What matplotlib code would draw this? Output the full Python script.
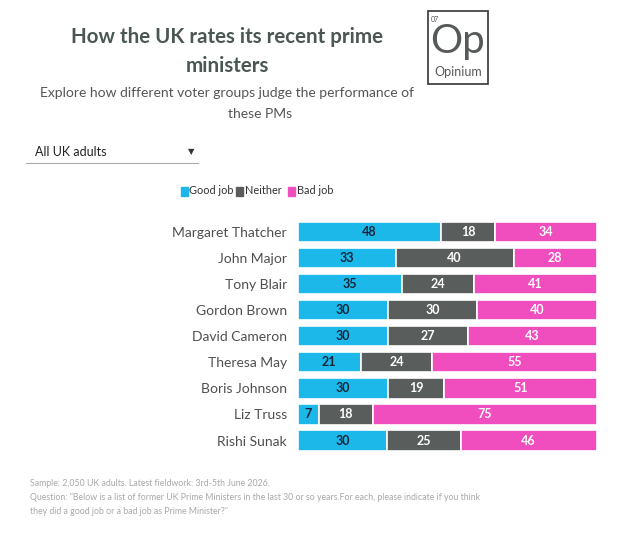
import matplotlib.pyplot as plt
import numpy as np
from matplotlib.patches import Rectangle

plt.rcParams['font.family'] = ['Lato', 'DejaVu Sans']

names = ["Margaret Thatcher", "John Major", "Tony Blair", "Gordon Brown", "David Cameron",
         "Theresa May", "Boris Johnson", "Liz Truss", "Rishi Sunak"]
good = [48, 33, 35, 30, 30, 21, 30, 7, 30]
neither = [18, 40, 24, 30, 27, 24, 19, 18, 25]
bad = [34, 28, 41, 40, 43, 55, 51, 75, 46]

series = ["Good job", "Neither", "Bad job"]
colors = ["#1cb8ea", "#595d5b", "#f04dbf"]
label_colors = ["#14263a", "white", "white"]

fig = plt.figure(figsize=(6.34, 5.38), dpi=100)
ax = fig.add_axes([0.470, 0.157, 0.471, 0.436])

vals = np.array([good, neither, bad], dtype=float)
tot = vals.sum(axis=0)
pct = vals / tot * 100
y = np.arange(len(names))
left = np.zeros(len(names))
for i in range(3):
    ax.barh(y, pct[i], left=left, height=0.78, color=colors[i],
            edgecolor="white", linewidth=1.2)
    for j in range(len(names)):
        ax.text(left[j] + pct[i][j] / 2, y[j], str(int(vals[i][j])), ha="center", va="center",
                color=label_colors[i], fontsize=9, fontweight="bold")
    left += pct[i]

ax.set_xlim(0, 100)
ax.set_ylim(len(names) - 0.5, -0.5)
ax.set_yticks(y)
ax.set_yticklabels(names, fontsize=10, color="#4f4f4f")
ax.tick_params(axis="y", length=0, pad=8)
ax.set_xticks([])
for s in ax.spines.values():
    s.set_visible(False)

# title / subtitle
tc = "#4b5752"
fig.text(227 / 634, 1 - 37 / 538, "How the UK rates its recent prime", ha="center", va="center",
         fontsize=14.8, fontweight="bold", color=tc)
fig.text(227 / 634, 1 - 66 / 538, "ministers", ha="center", va="center",
         fontsize=14.8, fontweight="bold", color=tc)
fig.text(227 / 634, 1 - 93 / 538, "Explore how different voter groups judge the performance of",
         ha="center", va="center", fontsize=10, color="#555555")
fig.text(260 / 634, 1 - 114 / 538, "these PMs", ha="center", va="center",
         fontsize=10, color="#555555")

# logo
fig.patches.append(Rectangle((428 / 634, 1 - 84 / 538), 60 / 634, 73 / 538,
                             transform=fig.transFigure, fill=False, edgecolor="#444444", lw=1.3))
fig.text(431 / 634, 1 - 19 / 538, "07", fontsize=5, color="#555555", va="center")
fig.text(458 / 634, 1 - 42 / 538, "Op", fontsize=29, color="#555a57", ha="center", va="center")
fig.text(458 / 634, 1 - 72 / 538, "Opinium", fontsize=9, color="#555a57", ha="center", va="center")

# dropdown
fig.text(35 / 634, 1 - 152 / 538, "All UK adults", fontsize=9, color="#222222", va="center")
fig.lines.append(plt.Line2D([26 / 634, 198 / 634], [1 - 163 / 538, 1 - 163 / 538],
                            transform=fig.transFigure, color="#aaaaaa", lw=0.8))
fig.text(191 / 634, 1 - 152 / 538, "\u25BC", fontsize=6, color="#333333", ha="center", va="center",
         family="DejaVu Sans")

# legend
lx = [181, 236, 288]
tx = [189, 245, 297]
for i in range(3):
    fig.patches.append(Rectangle((lx[i] / 634, 1 - 196 / 538), 7 / 634, 9 / 538,
                                 transform=fig.transFigure, color=colors[i]))
    fig.text(tx[i] / 634, 1 - 191 / 538, series[i], fontsize=7.8, color="#333333", va="center")

# footer
fc = "#a8a8a8"
fig.text(30 / 634, 1 - 483 / 538, "Sample: 2,050 UK adults. Latest fieldwork: 3rd-5th June 2026.",
         fontsize=6.35, color=fc, va="center")
fig.text(30 / 634, 1 - 498 / 538,
         "Question: \"Below is a list of former UK Prime Ministers in the last 30 or so years.For each, please indicate if you think",
         fontsize=6.35, color=fc, va="center")
fig.text(30 / 634, 1 - 512 / 538, "they did a good job or a bad job as Prime Minister?\"",
         fontsize=6.35, color=fc, va="center")

fig.savefig("out.png", dpi=100, facecolor="white")
